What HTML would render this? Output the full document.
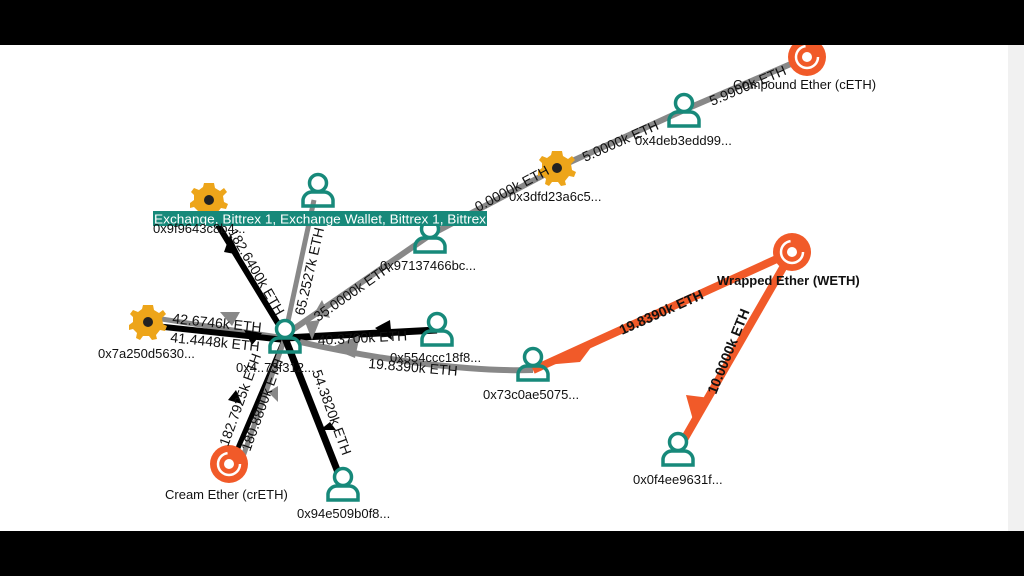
<!DOCTYPE html>
<html><head><meta charset="utf-8"><style>
body{margin:0;width:1024px;height:576px;overflow:hidden;background:#fff}
svg{display:block}
text{font-family:"Liberation Sans",sans-serif;font-size:13px;fill:#111}
.el{font-size:14px}
</style></head><body>
<svg width="1024" height="576" viewBox="0 0 1024 576">
<defs>
<g id="p"><circle cx="0" cy="-9" r="8.5" fill="#fff" stroke="#17897a" stroke-width="3.5"/><path d="M-15 14 V8 A9 9 0 0 1 -6 0 H6 A9 9 0 0 1 15 8 V14 Z" fill="none" stroke="#17897a" stroke-width="3.5"/></g>
<g id="g"><path d="M0 -17 L5 -17 L6 -12 L11 -9 L15 -12 L18 -8 L14 -4 L15 2 L19 4 L17 9 L12 8 L8 13 L9 17 L4 18 L1 14 L-5 14 L-8 18 L-12 16 L-11 11 L-15 7 L-19 8 L-19 3 L-15 0 L-15 -5 L-18 -8 L-15 -12 L-10 -10 L-6 -13 L-5 -17 Z" fill="#eda51a"/><circle r="5" fill="#222"/></g>
<g id="o"><circle r="19" fill="#f15a29"/><circle r="11" fill="none" stroke="#fff" stroke-width="2.5" stroke-dasharray="50 20"/><circle r="5" fill="#fff"/></g>
</defs>
<rect x="1008" y="45" width="16" height="486" fill="#f1f1f1"/>
<g stroke-linecap="butt" fill="none">
<line x1="285" y1="335" x2="218" y2="225" stroke="#000" stroke-width="6"/>
<line x1="285" y1="335" x2="314" y2="200" stroke="#888" stroke-width="5"/>
<line x1="285" y1="335" x2="430" y2="235" stroke="#888" stroke-width="6"/>
<line x1="430" y1="235" x2="557" y2="168" stroke="#888" stroke-width="6"/>
<line x1="557" y1="168" x2="684" y2="110" stroke="#888" stroke-width="6"/>
<line x1="684" y1="110" x2="807" y2="57" stroke="#888" stroke-width="6"/>
<line x1="285" y1="338" x2="155" y2="318" stroke="#888" stroke-width="5"/>
<line x1="285" y1="340" x2="155" y2="326" stroke="#000" stroke-width="6"/>
<line x1="285" y1="338" x2="437" y2="330" stroke="#000" stroke-width="7"/>
<path d="M533 370 C470 372 380 360 300 342" stroke="#888" stroke-width="6"/>
<line x1="285" y1="338" x2="232" y2="462" stroke="#000" stroke-width="5"/>
<line x1="285" y1="338" x2="240" y2="465" stroke="#888" stroke-width="5"/>
<line x1="285" y1="338" x2="343" y2="485" stroke="#000" stroke-width="7"/>
<line x1="792" y1="252" x2="533" y2="370" stroke="#f15a29" stroke-width="8"/>
<line x1="792" y1="252" x2="678" y2="450" stroke="#f15a29" stroke-width="8"/>
</g>
<g>
<polygon points="230,235 240,255 224,252" fill="#000"/>
<polygon points="320,320 312,340 305,322" fill="#888"/>
<polygon points="322,300 330,318 314,314" fill="#888"/>
<polygon points="220,312 240,312 232,326" fill="#888"/>
<polygon points="252,345 262,333 244,330" fill="#000"/>
<polygon points="375,328 390,320 392,340" fill="#000"/>
<polygon points="330,348 360,335 355,358" fill="#888"/>
<polygon points="228,400 236,390 242,404" fill="#000"/>
<polygon points="268,392 278,386 278,402" fill="#888"/>
<polygon points="330,422 320,430 336,430" fill="#000"/>
<polygon points="545,365 598,338 580,362" fill="#f15a29"/>
<polygon points="686,395 710,398 693,420" fill="#f15a29"/>
</g>
<use href="#g" x="209" y="200"/>
<use href="#g" x="148" y="322"/>
<use href="#g" x="557" y="168"/>
<use href="#p" x="318" y="192"/>
<use href="#p" x="430" y="238"/>
<use href="#p" x="285" y="338"/>
<use href="#p" x="437" y="331"/>
<use href="#p" x="533" y="366"/>
<use href="#p" x="343" y="486"/>
<use href="#p" x="684" y="112"/>
<use href="#p" x="678" y="451"/>
<use href="#o" x="229" y="464"/>
<use href="#o" x="807" y="57"/>
<use href="#o" x="792" y="252"/>
<rect x="153" y="211" width="334" height="15" fill="#17897a"/>
<text x="154" y="223.5" style="fill:#fff;font-size:13px" textLength="332" lengthAdjust="spacingAndGlyphs">Exchange, Bittrex  1, Exchange Wallet, Bittrex  1, Bittrex</text>
<text class="el" transform="translate(228,232) rotate(60)">182.6400k ETH</text>
<text class="el" transform="translate(304,316) rotate(-77)">65.2527k ETH</text>
<text class="el" transform="translate(318,322) rotate(-35)">35.0000k ETH</text>
<text class="el" transform="translate(478,212) rotate(-28)">0.0000k ETH</text>
<text class="el" transform="translate(585,162) rotate(-24)">5.0000k ETH</text>
<text class="el" transform="translate(712,106) rotate(-23)">5.9900k ETH</text>
<text class="el" transform="translate(172,323) rotate(6)">42.6746k ETH</text>
<text class="el" transform="translate(170,342) rotate(6)">41.4448k ETH</text>
<text class="el" transform="translate(318,345) rotate(-3)">40.3700k ETH</text>
<text class="el" transform="translate(368,368) rotate(5)">19.8390k ETH</text>
<text class="el" transform="translate(228,447) rotate(-70)">182.7925k ETH</text>
<text class="el" transform="translate(250,452) rotate(-70)">180.8800k ETH</text>
<text class="el" transform="translate(312,372) rotate(70)">54.3820k ETH</text>
<text class="el" transform="translate(622,335) rotate(-24)" style="font-weight:bold">19.8390k ETH</text>
<text class="el" transform="translate(716,395) rotate(-68)" style="font-weight:bold">10.0000k ETH</text>
<text x="153" y="233">0x9f9643c8b4...</text>
<text x="380" y="270">0x97137466bc...</text>
<text x="98" y="358">0x7a250d5630...</text>
<text x="236" y="372">0x4..73f312...</text>
<text x="390" y="362">0x554ccc18f8...</text>
<text x="483" y="399">0x73c0ae5075...</text>
<text x="165" y="499">Cream Ether (crETH)</text>
<text x="297" y="518">0x94e509b0f8...</text>
<text x="509" y="201">0x3dfd23a6c5...</text>
<text x="635" y="145">0x4deb3edd99...</text>
<text x="733" y="89">Compound Ether (cETH)</text>
<text x="717" y="285" style="font-weight:bold">Wrapped Ether (WETH)</text>
<text x="633" y="484">0x0f4ee9631f...</text>
<rect x="0" y="0" width="1024" height="45" fill="#000"/>
<rect x="0" y="531" width="1024" height="45" fill="#000"/>
</svg>
</body></html>
